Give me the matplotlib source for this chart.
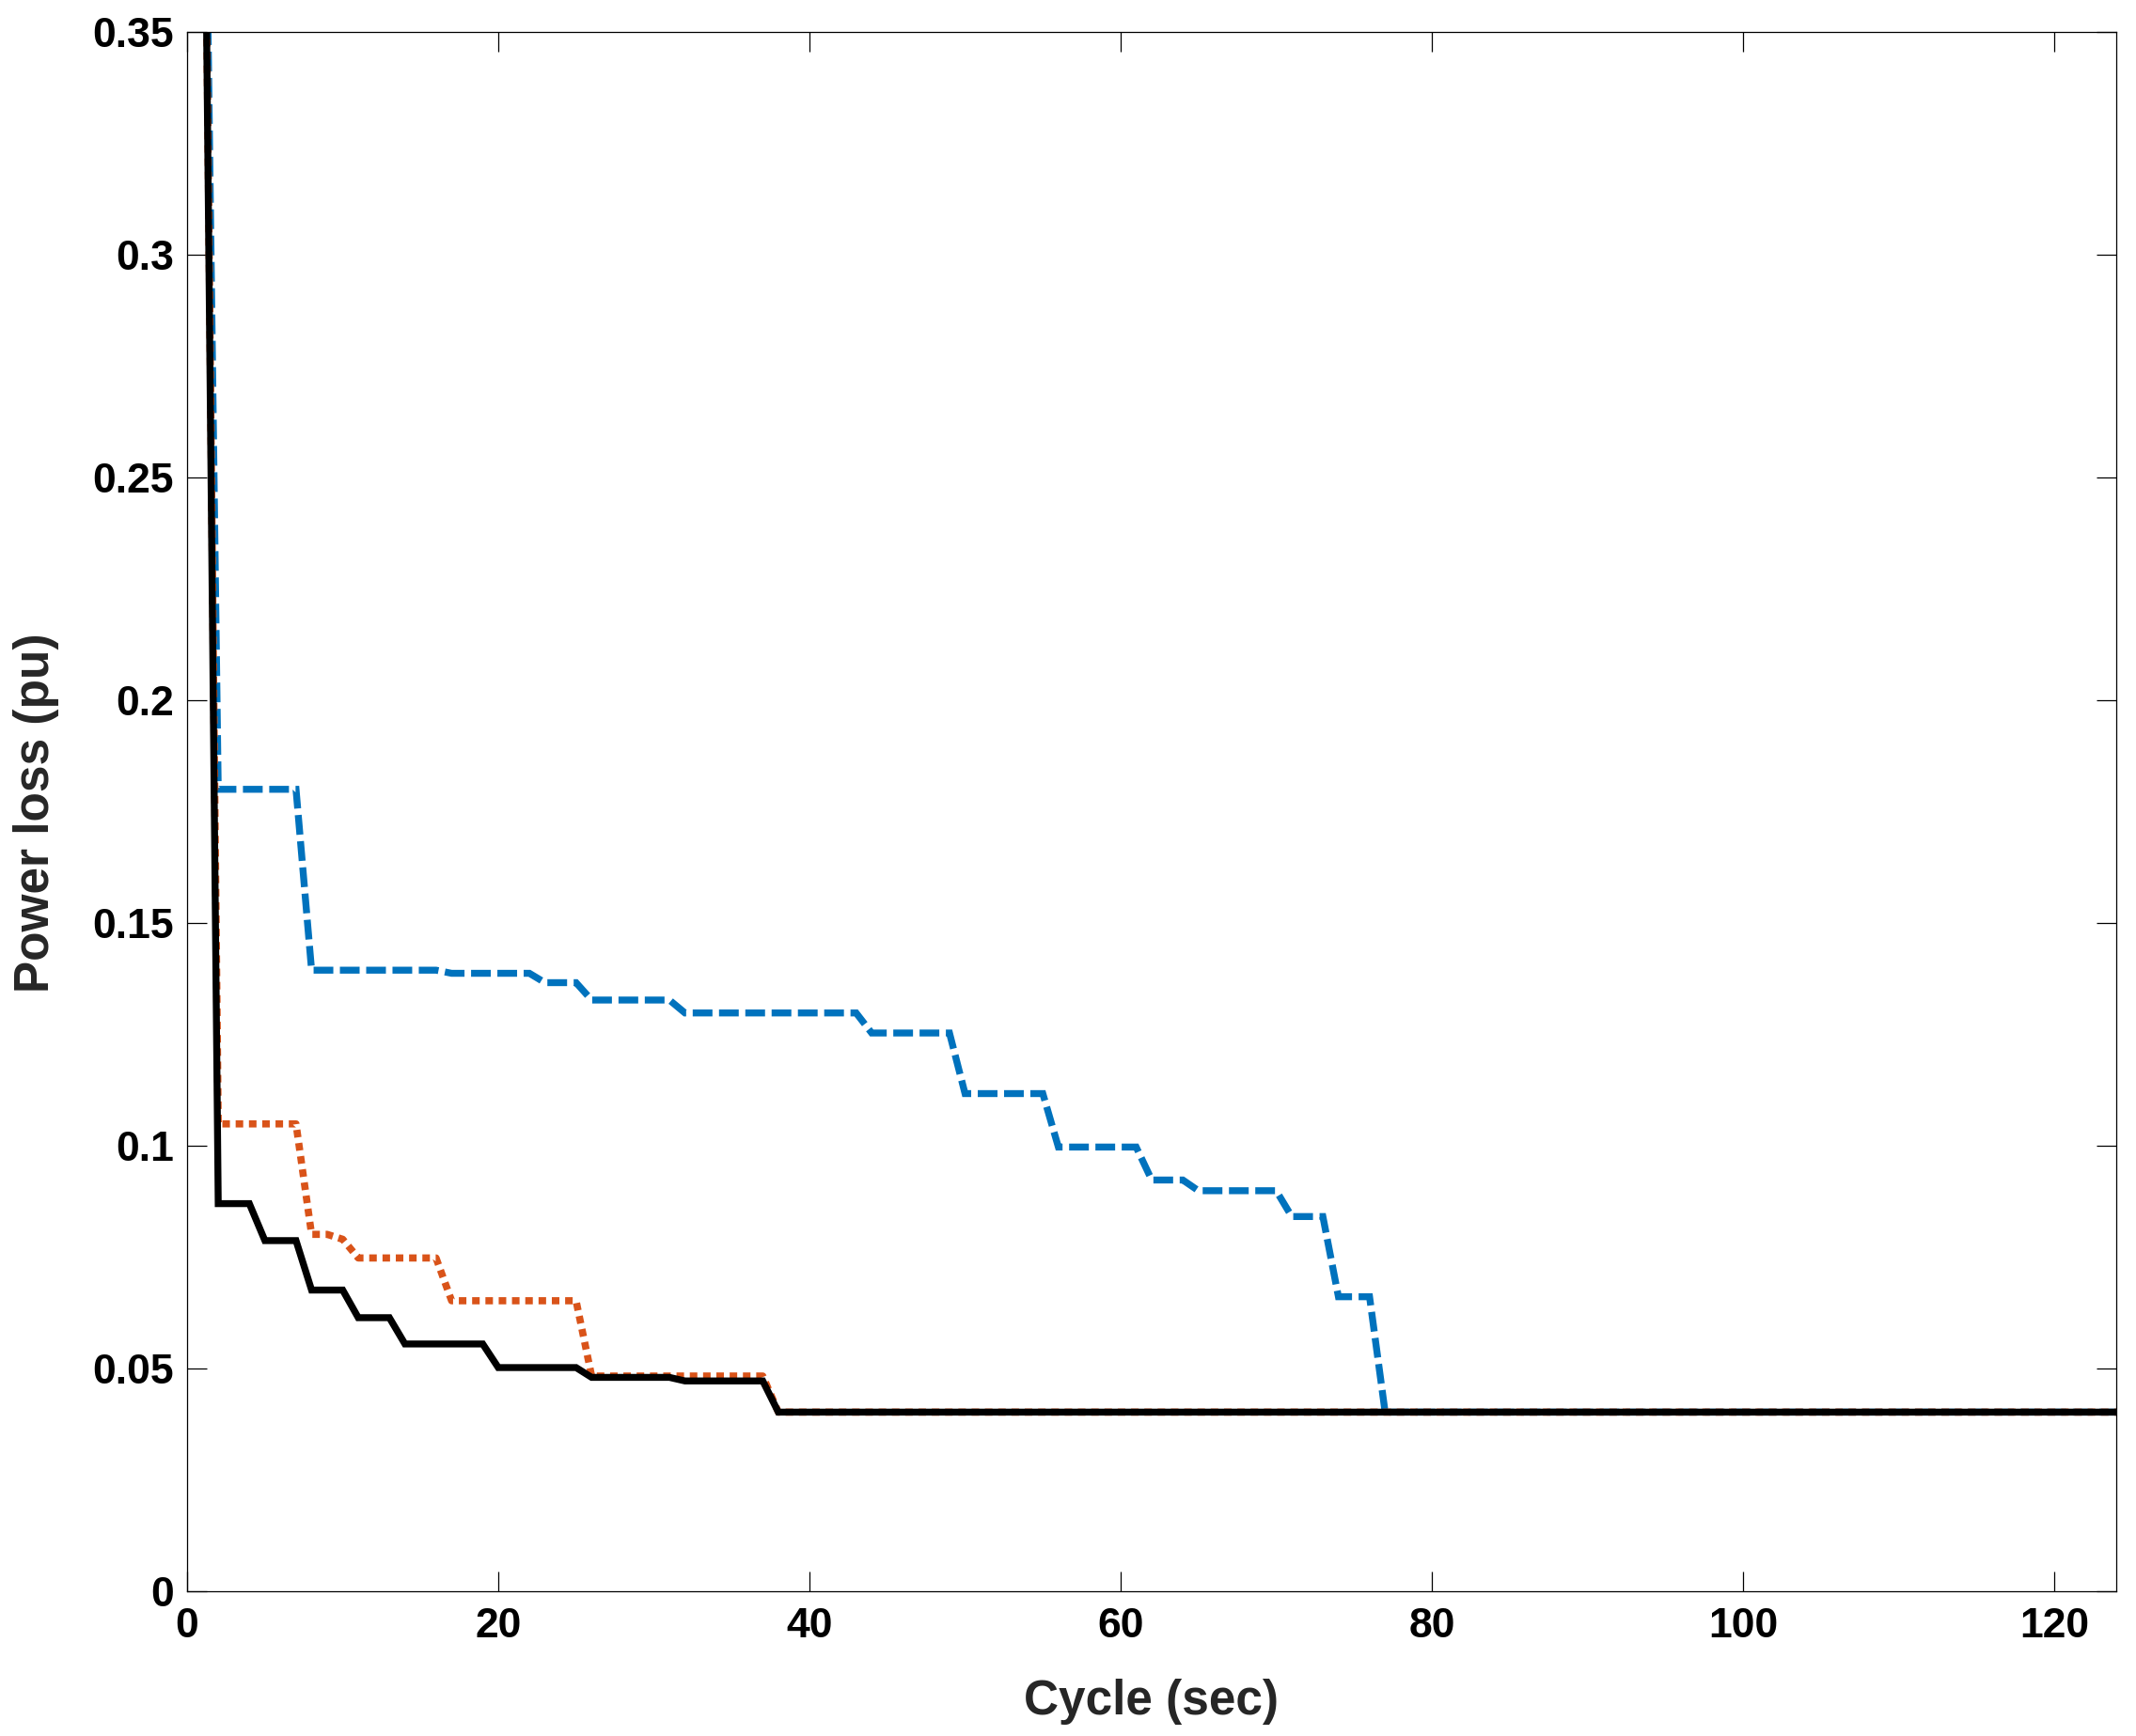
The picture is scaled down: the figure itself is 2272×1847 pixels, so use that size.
import numpy as np
import matplotlib
matplotlib.use("Agg")
import matplotlib.pyplot as plt

plt.rcParams['font.family'] = ['Liberation Sans', 'DejaVu Sans']
plt.rcParams['font.weight'] = 'bold'

# cycles 1..124, each series given as (first cycle of a level, level)
cycles = np.arange(1, 125)

blue_starts = [1, 2, 8, 17, 23, 26, 32, 44, 50, 56, 62, 65, 71, 74, 77]
blue_levels = [0.44, 0.180, 0.1394, 0.1387, 0.1366, 0.1327, 0.1298, 0.1253,
               0.1117, 0.0997, 0.0923, 0.0899, 0.0841, 0.0661, 0.0402]

orange_starts = [1, 2, 8, 10, 11, 17, 26, 38]
orange_levels = [0.44, 0.1049, 0.0801, 0.0790, 0.0748, 0.0652, 0.0483, 0.0402]

black_starts = [1, 2, 5, 8, 11, 14, 20, 26, 32, 38]
black_levels = [0.44, 0.0870, 0.0787, 0.0676, 0.0614, 0.0555, 0.0502,
                0.0480, 0.0472, 0.0402]

x_ticks = [0, 20, 40, 60, 80, 100, 120]
y_ticks = [0, 0.05, 0.1, 0.15, 0.2, 0.25, 0.3, 0.35]


def expand(starts, levels):
    idx = np.searchsorted(starts, cycles, side='right') - 1
    return np.array(levels)[idx]


fig = plt.figure(figsize=(22.72, 18.47), dpi=100)
ax = fig.add_axes([0.0876, 0.0834, 0.9032, 0.8982])

ax.plot(cycles, expand(blue_starts, blue_levels), color='#0072BD', lw=5.3,
        ls=(0, (2.85, 0.95)), dash_capstyle='butt', dash_joinstyle='miter')
ax.plot(cycles, expand(orange_starts, orange_levels), color='#D95319', lw=5.5,
        ls=(0, (1.05, 0.8)), dash_capstyle='butt')
ax.plot(cycles, expand(black_starts, black_levels), color='black', lw=5.3,
        solid_joinstyle='miter')

ax.set_xlim(0, 124)
ax.set_ylim(0, 0.35)
ax.set_xticks(x_ticks)
ax.set_yticks(y_ticks)
ax.set_yticklabels(['%g' % v for v in y_ticks])

ax.tick_params(direction='in', length=15, width=0.9, top=True, right=True,
               labelsize=32, colors='black')
ax.tick_params(axis='x', pad=12.5)
ax.tick_params(axis='y', pad=10)
for s in ax.spines.values():
    s.set_linewidth(0.9)

fig.text(0.0168, 0.532, 'Power loss (pu)', rotation=90, ha='center',
         va='center', fontsize=37, fontweight='bold', color='#262626')
fig.text(0.539, 0.020, 'Cycle (sec)', ha='center', va='center',
         fontsize=37, fontweight='bold', color='#262626')

fig.savefig('out.png', dpi=100, facecolor='white')
